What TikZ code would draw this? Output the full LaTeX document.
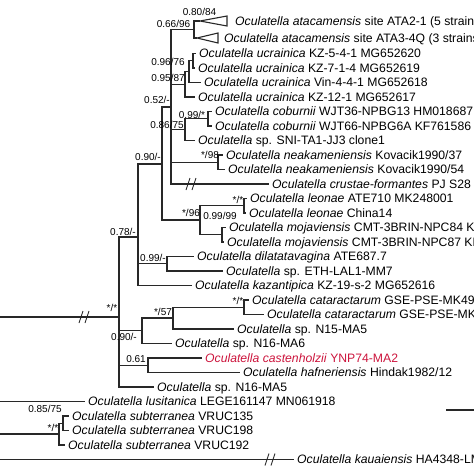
\documentclass[tikz,border=0pt]{standalone}
\usepackage{fontspec}
\setmainfont{Liberation Sans}
\usepackage{tikz}
\definecolor{treeline}{RGB}{40,40,40}
\definecolor{highlight}{RGB}{204,20,60}
\newcommand{\gen}[1]{\textit{#1}}
\tikzset{
  brkmark/.pic={\draw[treeline, line width=0.9pt] (-5,6) -- (-1,-6) (1,6) -- (5,-6);}
}

\begin{document}
\begin{tikzpicture}[x=1pt, y=-1pt,
  branch/.style={draw=treeline, line width=1.1pt},
  leaf/.style={anchor=west, inner xsep=3pt, inner ysep=0pt, text height=9pt, text depth=1pt,
    font=\fontsize{12.2}{12}\selectfont},
  supp/.style={inner sep=0pt, font=\fontsize{10}{10}\selectfont}
]
\useasboundingbox (0,0) rectangle (474,474);

% leaves
\node[leaf] (ata1) at (232,21) {\gen{Oculatella atacamensis} site ATA2-1 (5 strains)};
\node[leaf] (ata2) at (221,38) {\gen{Oculatella atacamensis} site ATA3-4Q (3 strains)};
\node[leaf] (ucr1) at (196,53.5) {\gen{Oculatella ucrainica} KZ-5-4-1 MG652620};
\node[leaf] (ucr2) at (195,68) {\gen{Oculatella ucrainica} KZ-7-1-4 MG652619};
\node[leaf] (ucr3) at (201,82.5) {\gen{Oculatella ucrainica} Vin-4-4-1 MG652618};
\node[leaf] (ucr4) at (195,97) {\gen{Oculatella ucrainica} KZ-12-1 MG652617};
\node[leaf] (cob1) at (212,111.5) {\gen{Oculatella coburnii} WJT36-NPBG13 HM018687};
\node[leaf] (cob2) at (212,126) {\gen{Oculatella coburnii} WJT66-NPBG6A KF761586};
\node[leaf] (sni) at (195,140.5) {\gen{Oculatella} sp. SNI-TA1-JJ3 clone1};
\node[leaf] (nea1) at (223,155) {\gen{Oculatella neakameniensis} Kovacik1990/37};
\node[leaf] (nea2) at (225,169.5) {\gen{Oculatella neakameniensis} Kovacik1990/54};
\node[leaf] (cru) at (269,184) {\gen{Oculatella crustae-formantes} PJ S28};
\node[leaf] (leo1) at (247,198.5) {\gen{Oculatella leonae} ATE710 MK248001};
\node[leaf] (leo2) at (246,213) {\gen{Oculatella leonae} China14};
\node[leaf] (moj1) at (226,227.5) {\gen{Oculatella mojaviensis} CMT-3BRIN-NPC84 KF};
\node[leaf] (moj2) at (224,242) {\gen{Oculatella mojaviensis} CMT-3BRIN-NPC87 KF};
\node[leaf] (dil) at (194,256.5) {\gen{Oculatella dilatatavagina} ATE687.7};
\node[leaf] (eth) at (223,271) {\gen{Oculatella} sp. ETH-LAL1-MM7};
\node[leaf] (kaz) at (192,285.5) {\gen{Oculatella kazantipica} KZ-19-s-2 MG652616};
\node[leaf] (cat1) at (249,300) {\gen{Oculatella cataractarum} GSE-PSE-MK49};
\node[leaf] (cat2) at (264,314.5) {\gen{Oculatella cataractarum} GSE-PSE-MK};
\node[leaf] (n15) at (234,329) {\gen{Oculatella} sp. N15-MA5};
\node[leaf] (n16a) at (172,343.5) {\gen{Oculatella} sp. N16-MA6};
\node[leaf, text=highlight] (cas) at (202,358) {\gen{Oculatella castenholzii} YNP74-MA2};
\node[leaf] (haf) at (240,372.5) {\gen{Oculatella hafneriensis} Hindak1982/12};
\node[leaf] (n16b) at (154,387) {\gen{Oculatella} sp. N16-MA5};
\node[leaf] (lus) at (85,401.5) {\gen{Oculatella lusitanica} LEGE161147 MN061918};
\node[leaf] (sub1) at (69,416) {\gen{Oculatella subterranea} VRUC135};
\node[leaf] (sub2) at (69,430.5) {\gen{Oculatella subterranea} VRUC198};
\node[leaf] (sub3) at (65,445) {\gen{Oculatella subterranea} VRUC192};
\node[leaf] (kau) at (294,459.5) {\gen{Oculatella kauaiensis} HA4348-LM1};

% internal nodes
\coordinate (rin) at (0,317);
\coordinate (nIn) at (119,317);
\coordinate (nB) at (138,237);
\coordinate (nC) at (162,164);
\coordinate (nD) at (171,107);
\coordinate (nAta) at (194,29.5);
\coordinate (ta1) at (200,21);
\coordinate (ta2) at (197,38);
\coordinate (nU1) at (193,60.75);
\coordinate (nU2) at (189,71.6);
\coordinate (nU3) at (185,84.3);
\coordinate (nCb) at (208,118.75);
\coordinate (nCs) at (185,129.6);
\coordinate (nNk) at (218,162.25);
\coordinate (nLm) at (200,220);
\coordinate (nLe) at (244,205.75);
\coordinate (nMo) at (222,234.75);
\coordinate (nDe) at (167,263.75);
\coordinate (nCt) at (244,307.25);
\coordinate (n57) at (173,318);
\coordinate (nV) at (142,330.75);
\coordinate (nQ) at (148,365.25);
\coordinate (rlus) at (0,401.5);
\coordinate (rsub) at (0,434);
\coordinate (nS2) at (59,434);
\coordinate (nS1) at (63,423.25);
\coordinate (rkau) at (0,459.5);
\coordinate (sb1) at (446,410);
\coordinate (sb2) at (474,410);

% branches
\draw[branch] (rin) -- (nIn);
\draw[branch] (nIn) |- (nB);
\draw[branch] (nIn) |- (nV);
\draw[branch] (nIn) |- (nQ);
\draw[branch] (nIn) |- (n16b.west);
\draw[branch] (nB) |- (nC);
\draw[branch] (nB) |- (nDe);
\draw[branch] (nB) |- (kaz.west);
\draw[branch] (nC) |- (nD);
\draw[branch] (nC) |- (nLm);
\draw[branch] (nD) |- (nAta);
\draw[branch] (nD) |- (nU3);
\draw[branch] (nD) |- (nCs);
\draw[branch] (nD) |- (nNk);
\draw[branch] (nD) |- (cru.west);
\draw[branch] (nAta) |- (ta1);
\draw[branch] (nAta) |- (ta2);
\draw[branch] (ta1) -- ++(27,-5) -- ++(0,10) -- cycle;
\draw[branch] (ta2) -- ++(21,-5) -- ++(0,10) -- cycle;
\draw[branch] (nU3) |- (nU2);
\draw[branch] (nU3) |- (ucr4.west);
\draw[branch] (nU2) |- (nU1);
\draw[branch] (nU2) |- (ucr3.west);
\draw[branch] (nU1) |- (ucr1.west);
\draw[branch] (nU1) |- (ucr2.west);
\draw[branch] (nCs) |- (nCb);
\draw[branch] (nCs) |- (sni.west);
\draw[branch] (nCb) |- (cob1.west);
\draw[branch] (nCb) |- (cob2.west);
\draw[branch] (nNk) |- (nea1.west);
\draw[branch] (nNk) |- (nea2.west);
\draw[branch] (nLm) |- (nLe);
\draw[branch] (nLm) |- (nMo);
\draw[branch] (nLe) |- (leo1.west);
\draw[branch] (nLe) |- (leo2.west);
\draw[branch] (nMo) |- (moj1.west);
\draw[branch] (nMo) |- (moj2.west);
\draw[branch] (nDe) |- (dil.west);
\draw[branch] (nDe) |- (eth.west);
\draw[branch] (nV) |- (n57);
\draw[branch] (nV) |- (n16a.west);
\draw[branch] (n57) |- (nCt);
\draw[branch] (n57) |- (n15.west);
\draw[branch] (nCt) |- (cat1.west);
\draw[branch] (nCt) |- (cat2.west);
\draw[branch] (nQ) |- (cas.west);
\draw[branch] (nQ) |- (haf.west);
\draw[branch] (rlus) -- (lus.west);
\draw[branch] (rsub) -- (nS2);
\draw[branch] (nS2) |- (nS1);
\draw[branch] (nS2) |- (sub3.west);
\draw[branch] (nS1) |- (sub1.west);
\draw[branch] (nS1) |- (sub2.west);
\draw[branch] (rkau) -- (kau.west);
\draw[branch] (sb1) -- (sb2);

% long branches cut
\pic at (84,317) {brkmark};
\pic at (191,184) {brkmark};
\pic at (270,459.5) {brkmark};

% support values
\node[supp] (bs8084) at (199.5,12) {0.80/84};
\node[supp] (bs6696) at (173.5,24) {0.66/96};
\node[supp] (bs9676) at (168,62) {0.96/76};
\node[supp] (bs9587) at (168,78) {0.95/87};
\node[supp] (bs52) at (157,100) {0.52/-};
\node[supp] (bs99s) at (192,115) {0.99/*};
\node[supp] (bs8675) at (167,125) {0.86/75};
\node[supp] (bs90a) at (148,157) {0.90/-};
\node[supp] (bs98) at (210,155) {*/98};
\node[supp] (bsleo) at (238,200) {*/*};
\node[supp] (bs96) at (191,213) {*/96};
\node[supp] (bs9999) at (220,216) {0.99/99};
\node[supp] (bs78) at (123,232) {0.78/-};
\node[supp] (bs99d) at (153,258) {0.99/-};
\node[supp] (bscat) at (238,301) {*/*};
\node[supp] (bs57) at (163,312) {*/57};
\node[supp] (bsin) at (112,308) {*/*};
\node[supp] (bs90b) at (124,337) {0.90/-};
\node[supp] (bs61) at (136,359) {0.61};
\node[supp] (bs8575) at (45,409) {0.85/75};
\node[supp] (bssub) at (53,428) {*/*};
\end{tikzpicture}
\end{document}
